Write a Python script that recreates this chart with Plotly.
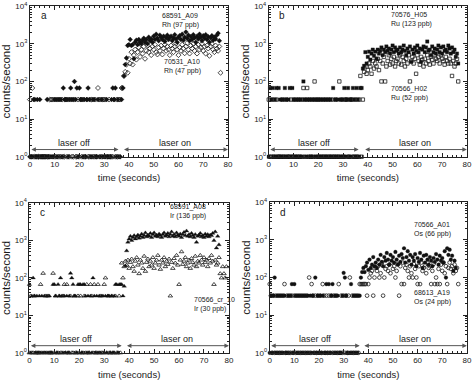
import math
import plotly.graph_objects as go

# ---------------- sample times (s) ----------------
TIME_OFF = [0.0, 0.5, 1.0, 1.5, 2.0, 2.5, 3.0, 3.5, 4.0, 4.5,
            5.0, 5.5, 6.0, 6.5, 7.0, 7.5, 8.0, 8.5, 9.0, 9.5,
            10.0, 10.5, 11.0, 11.5, 12.0, 12.5, 13.0, 13.5, 14.0, 14.5,
            15.0, 15.5, 16.0, 16.5, 17.0, 17.5, 18.0, 18.5, 19.0, 19.5,
            20.0, 20.5, 21.0, 21.5, 22.0, 22.5, 23.0, 23.5, 24.0, 24.5,
            25.0, 25.5, 26.0, 26.5, 27.0, 27.5, 28.0, 28.5, 29.0, 29.5,
            30.0, 30.5, 31.0, 31.5, 32.0, 32.5, 33.0, 33.5, 34.0, 34.5,
            35.0, 35.5, 36.0, 36.5, 37.0, 37.5]
TIME_ON = [38.0, 38.5, 39.0, 39.5, 40.0, 40.5, 41.0, 41.5, 42.0, 42.5,
           43.0, 43.5, 44.0, 44.5, 45.0, 45.5, 46.0, 46.5, 47.0, 47.5,
           48.0, 48.5, 49.0, 49.5, 50.0, 50.5, 51.0, 51.5, 52.0, 52.5,
           53.0, 53.5, 54.0, 54.5, 55.0, 55.5, 56.0, 56.5, 57.0, 57.5,
           58.0, 58.5, 59.0, 59.5, 60.0, 60.5, 61.0, 61.5, 62.0, 62.5,
           63.0, 63.5, 64.0, 64.5, 65.0, 65.5, 66.0, 66.5, 67.0, 67.5,
           68.0, 68.5, 69.0, 69.5, 70.0, 70.5, 71.0, 71.5, 72.0, 72.5,
           73.0, 73.5, 74.0, 74.5, 75.0, 75.5, 76.0, 76.5, 77.0, 77.5,
           78.0, 78.5, 79.0]

# ---------------- panel a : Rh ----------------
A09_OFF = [1, 1, 1, 33, 33, 1, 33, 1, 33, 1,
           1, 1, 1, 1, 33, 1, 1, 1, 1, 1,
           33, 33, 1, 33, 33, 33, 1, 67, 33, 33,
           33, 1, 33, 67, 33, 33, 100, 33, 67, 1,
           67, 33, 33, 1, 33, 1, 33, 67, 33, 1,
           1, 33, 33, 1, 1, 33, 1, 1, 33, 1,
           1, 1, 33, 1, 1, 1, 33, 67, 33, 67,
           1, 33, 1, 1, 33, 67]
A09_ON = [140, 280, 420, 900, 950, 1300, 900, 950, 400, 1100,
          1250, 950, 1300, 1100, 1000, 1250, 1400, 1100, 1300, 1000,
          1500, 1200, 1350, 1100, 1600, 1300, 1800, 1400, 1200, 1700,
          1500, 1300, 1600, 1150, 1450, 1700, 1300, 1500, 1600, 1200,
          1400, 1750, 1350, 1100, 1500, 1650, 1300, 1800, 1250, 1500,
          2050, 1400, 1700, 1200, 1550, 1300, 1750, 1450, 1100, 1600,
          1350, 1800, 1500, 1200, 1650, 1400, 1750, 1300, 1550, 1100,
          1450, 1650, 1250, 1500, 1350, 1700, 1900, 1200, None, None,
          None, None, None]
A10_OFF = [33, 1, 67, 1, 1, 1, 1, 1, 1, 1,
           1, 1, 1, 1, 1, 1, 33, 33, 33, 33,
           1, 1, 33, 1, 1, 1, 33, 1, 1, 33,
           1, 33, 1, 33, 1, 1, 33, 1, 1, 33,
           1, 33, 1, 33, 1, 1, 33, 1, 1, 33,
           33, 1, 1, 33, 1, 67, 33, 33, 1, 33,
           33, 33, 1, 1, 33, 1, 1, 1, 33, 1,
           33, 1, 33, 33, 67, 67]
A10_ON = [140, 180, 280, 170, 400, 300, 600, 280, 500, 700,
          380, 600, 800, 450, 700, 550, 850, 400, 650, 900,
          600, 750, 500, 850, 700, 950, 600, 520, 800, 650,
          900, 520, 750, 950, 650, 850, 700, 500, 900, 750,
          600, 850, 1000, 700, 500, 800, 650, 950, 750, 560,
          850, 1050, 700, 550, 900, 750, 1000, 650, 850, 550,
          950, 700, 800, 1000, 650, 850, 550, 900, 750, 480,
          850, 1000, 700, 600, 900, 750, 650, 850, 170, None,
          None, None, None]

# ---------------- panel b : Ru ----------------
H05_OFF = [1, 67, 33, 67, 1, 33, 67, 1, 67, 33,
           1, 33, 1, 67, 33, 1, 33, 67, 1, 67,
           33, 1, 33, 1, 33, 1, 33, 1, 100, 33,
           1, 33, 1, 33, 1, 33, 1, 33, 1, 33,
           33, 1, 33, 1, 33, 1, 33, 1, 33, 1,
           33, 1, 67, 1, 33, 1, 33, 1, 33, 1,
           33, 67, 1, 33, 67, 1, 33, 1, 67, 33,
           1, 67, 33, 1, 67, 67]
H05_ON = [220, 260, 600, 300, 450, 620, 380, 550, 700, 480,
          620, 400, 700, 550, 650, 800, 500, 700, 600, 850,
          650, 750, 550, 700, 900, 600, 800, 650, 700, 550,
          800, 600, 700, 900, 650, 500, 750, 600, 850, 330,
          700, 550, 800, 650, 900, 600, 750, 330, 700, 850,
          600, 800, 1150, 650, 700, 500, 850, 600, 750, 550,
          700, 900, 600, 800, 550, 850, 650, 700, 600, 900,
          750, 550, 800, 600, 700, 450, 550, 300, None, None,
          None, None, None]
H02_OFF = [33, 1, 1, 33, 1, 1, 33, 1, 1, 1,
           1, 33, 1, 1, 33, 1, 1, 1, 33, 1,
           1, 33, 1, 1, 33, 1, 1, 33, 67, 1,
           33, 67, 1, 33, 1, 1, 33, 100, 1, 33,
           1, 1, 33, 1, 1, 33, 1, 1, 33, 1,
           1, 33, 1, 1, 33, 1, 1, 100, 1, 33,
           1, 1, 33, 33, 1, 1, 33, 33, 1, 1,
           33, 1, 1, 33, 140, 1]
H02_ON = [33, 180, 250, 160, 200, 300, 250, 160, 350, 220,
          300, 250, 400, 200, 350, 100, 300, 450, 100, 250,
          350, 500, 280, 400, 300, 450, 250, 350, 400, 300,
          500, 280, 450, 350, 250, 400, 300, 500, 100, 350,
          450, 300, 400, 160, 500, 350, 280, 450, 380, 250,
          400, 300, 500, 350, 280, 450, 380, 300, 500, 400,
          350, 450, 300, 500, 400, 350, 280, 450, 350, 300,
          400, 300, 140, 350, 250, 300, 400, 100, None, None,
          None, None, None]

# ---------------- panel c : Ir ----------------
A08_OFF = [67, 1, 33, 100, 33, 1, 33, 1, 33, 1,
           33, 1, 33, 1, 33, 1, 33, 1, 1, 67,
           67, 33, 1, 67, 33, 100, 33, 1, 33, 1,
           33, 1, 33, 133, 100, 67, 33, 33, 1, 67,
           67, 67, 1, 67, 67, 33, 1, 33, 1, 33,
           1, 100, 33, 1, 33, 1, 33, 1, 33, 33,
           1, 33, 1, 33, 33, 1, 33, 1, 33, 67,
           67, 1, 67, 67, 67, 33]
A08_ON = [60, 210, 530, 900, 1100, 1300, 1000, 1200, 1350, 1100,
          1250, 1400, 1150, 1300, 1500, 1200, 1350, 1600, 1250, 1400,
          1300, 1550, 1200, 1450, 1600, 1300, 1400, 1250, 1500, 1350,
          1200, 1450, 1600, 1300, 1400, 1550, 1250, 1450, 1700, 1300,
          1450, 1250, 1600, 1400, 1300, 1500, 1200, 1450, 1650, 1350,
          1800, 1300, 1450, 1250, 1550, 1350, 1200, 1450, 900, 1300,
          1400, 1550, 1250, 1350, 1200, 1500, 1300, 1450, 1250, 1400,
          1350, 1550, 1000, 1700, 630, 1300, 770, None, None, None,
          None, None, None]
CR10_OFF = [1, 33, 1, 1, 33, 1, 1, 1, 1, 67,
            1, 133, 1, 33, 1, 33, 1, 1, 1, 133,
            1, 33, 1, 1, 33, 1, 1, 33, 67, 1,
            67, 1, 1, 33, 1, 1, 33, 1, 1, 33,
            1, 33, 1, 1, 33, 1, 67, 1, 1, 67,
            33, 1, 67, 1, 1, 67, 1, 33, 1, 1,
            67, 100, 1, 33, 1, 1, 33, 1, 1, 33,
            1, 1, 33, 1, 250, 100]
CR10_ON = [200, 280, 220, 300, 180, 260, 320, 200, 150, 280,
           350, 220, 130, 300, 250, 180, 380, 150, 260, 320,
           200, 280, 220, 350, 180, 250, 300, 400, 220, 170,
           300, 250, 350, 200, 280, 230, 320, 33, 260, 180,
           330, 250, 400, 220, 67, 300, 500, 230, 280, 350,
           200, 250, 300, 180, 330, 260, 220, 380, 200, 280,
           250, 400, 300, 220, 350, 260, 300, 200, 330, 250,
           400, 280, 67, 300, 220, 250, 350, 130, 100, 200,
           130, 100, 200]

# ---------------- panel d : Os ----------------
A01_OFF = [1, 33, 1, 33, 100, 1, 33, 1, 33, 1,
           33, 1, 33, 1, 1, 33, 1, 33, 67, 1,
           67, 33, 1, 33, 1, 33, 1, 33, 1, 33,
           1, 33, 1, 33, 1, 33, 1, 100, 1, 33,
           1, 33, 1, 33, 1, 1, 67, 1, 67, 1,
           33, 67, 1, 33, 1, 33, 1, 1, 1, 33,
           133, 100, 33, 1, 1, 1, 67, 1, 33, 1,
           33, 1, 33, 33, 100, 140]
A01_ON = [180, 140, 200, 250, 160, 300, 180, 220, 350, 200,
          250, 180, 300, 220, 400, 260, 200, 350, 280, 450,
          300, 220, 400, 280, 350, 250, 480, 300, 220, 380,
          260, 420, 330, 600, 250, 350, 500, 280, 400, 220,
          350, 280, 420, 200, 330, 260, 450, 300, 180, 380,
          250, 400, 300, 220, 350, 280, 200, 330, 260, 420,
          300, 220, 380, 280, 330, 250, 500, 100, 600, 400,
          550, 300, 380, 150, 280, 180, None, None, None, None,
          None, None, None]
A19_OFF = [67, 33, 1, 33, 1, 33, 1, 33, 1, 33,
           1, 33, 67, 1, 33, 1, 33, 1, 33, 1,
           33, 1, 33, 1, 33, 1, 33, 1, 33, 1,
           33, 1, 100, 1, 67, 33, 1, 33, 1, 33,
           1, 33, 1, 67, 33, 1, 33, 1, 33, 1,
           33, 1, 33, 1, 33, 1, 67, 1, 33, 1,
           33, 1, 33, 1, 33, 100, 1, 33, 1, 33,
           1, 33, 1, 67, 67, 67]
A19_ON = [67, 67, 67, 33, 67, 100, 130, 150, 33, 100,
          180, 150, 200, 100, 130, 250, 33, 100, 170, 200,
          150, 220, 130, 250, 170, 200, 100, 150, 230, 33,
          200, 67, 250, 67, 180, 220, 150, 100, 200, 130,
          100, 230, 170, 100, 67, 200, 67, 250, 150, 180,
          220, 130, 250, 180, 200, 67, 150, 230, 67, 100,
          67, 170, 67, 220, 150, 250, 130, 200, 67, 180,
          250, 170, 200, 130, 220, 150, 180, 67, None, None,
          None, None, None]

# ---------------- text ----------------
PANEL_LETTERS = ["a", "b", "c", "d"]
SERIES_NAMES = [("68591_A09", "Rh (97 ppb)", "70531_A10", "Rh (47 ppb)"),
                ("70576_H05", "Ru (123 ppb)", "70566_H02", "Ru (52 ppb)"),
                ("68591_A08", "Ir (136 ppb)", "70566_cr_10", "Ir (30 ppb)"),
                ("70566_A01", "Os (66 ppb)", "68613_A19", "Os (24 ppb)")]
SYMBOLS = ["diamond", "square", "triangle-up", "circle"]
SIZES = [3.8, 3.4, 4.0, 3.7]
FILLED = [(A09_OFF, A09_ON), (H05_OFF, H05_ON), (A08_OFF, A08_ON), (A01_OFF, A01_ON)]
OPEN = [(A10_OFF, A10_ON), (H02_OFF, H02_ON), (CR10_OFF, CR10_ON), (A19_OFF, A19_ON)]

# label positions (time, log10 counts) and laser arrows (off end, on start)
LABEL_POS = [((52.5, 3.63), (53.2, 2.39)),
             ((48.4, 3.65), (48.4, 1.67)),
             ((55.7, 3.77), (65.0, 1.29)),
             ((57.7, 3.28), (57.7, 1.46))]
LASER_OFF_END = [35.8, 36.3, 37.0, 36.5]
LASER_ON_START = [37.4, 38.3, 38.5, 37.8]

XDOM = [[0.063, 0.481], [0.567, 0.985], [0.062, 0.483], [0.569, 0.985]]
YDOM = [[0.594, 0.984], [0.594, 0.984], [0.086, 0.474], [0.086, 0.476]]

FONT = "Arial, Liberation Sans, Helvetica, sans-serif"
TXT = "#1a1a1a"

fig = go.Figure()
layout = dict(width=474, height=386, margin=dict(l=0, r=0, t=0, b=0, autoexpand=False),
              paper_bgcolor="white", plot_bgcolor="white", showlegend=False,
              font=dict(family=FONT, color=TXT))
annotations = []
minor_y = [k * 10 ** d for d in range(4) for k in range(2, 10)]
TIME = TIME_OFF + TIME_ON

for i in range(4):
    n = "" if i == 0 else str(i + 1)
    xa, ya = "x" + n, "y" + n
    f_vals = FILLED[i][0] + FILLED[i][1]
    o_vals = OPEN[i][0] + OPEN[i][1]
    fig.add_trace(go.Scatter(x=TIME, y=o_vals, mode="markers", xaxis=xa, yaxis=ya,
                             cliponaxis=False,
                             marker=dict(symbol=SYMBOLS[i] + "-open", size=SIZES[i],
                                         color="#1a1a1a", line=dict(width=0.8, color="#1a1a1a"))))
    fig.add_trace(go.Scatter(x=TIME, y=f_vals, mode="markers", xaxis=xa, yaxis=ya,
                             cliponaxis=False,
                             marker=dict(symbol=SYMBOLS[i], size=SIZES[i],
                                         color="#111", line=dict(width=0.3, color="#111"))))
    layout["xaxis" + n] = dict(domain=XDOM[i], anchor=ya, range=[0, 80], dtick=10,
                               automargin=False,
                               ticks="inside", ticklen=4, tickwidth=1, tickcolor="#222",
                               showline=True, linecolor="#222", linewidth=1, mirror="allticks",
                               showgrid=False, zeroline=False,
                               minor=dict(dtick=2, ticks="inside", ticklen=2, tickcolor="#222", showgrid=False),
                               tickfont=dict(size=8, color=TXT),
                               title=dict(text="time (seconds)", font=dict(size=9.5, color=TXT), standoff=6))
    layout["yaxis" + n] = dict(domain=YDOM[i], anchor=xa, type="log", range=[0, 4],
                               automargin=False,
                               tickvals=[1, 10, 100, 1000, 10000],
                               ticktext=["10<sup>0</sup>", "10<sup>1</sup>", "10<sup>2</sup>",
                                         "10<sup>3</sup>", "10<sup>4</sup>"],
                               ticks="inside", ticklen=4, tickwidth=1, tickcolor="#222",
                               showline=True, linecolor="#222", linewidth=1, mirror="allticks",
                               showgrid=False, zeroline=False,
                               minor=dict(tickvals=minor_y, ticks="inside", ticklen=2,
                                          tickcolor="#222", showgrid=False),
                               tickfont=dict(size=8, color=TXT),
                               title=dict(text="counts/second", font=dict(size=11.5, color=TXT), standoff=2))
    # panel letter
    annotations.append(dict(xref=xa, yref=ya, x=3.5, y=3.74, text=PANEL_LETTERS[i],
                            showarrow=False, xanchor="left", font=dict(size=10, color=TXT)))
    # sample labels
    (p1, p2) = LABEL_POS[i]
    nm = SERIES_NAMES[i]
    annotations.append(dict(xref=xa, yref=ya, x=p1[0], y=p1[1], text=nm[0] + "<br>" + nm[1],
                            showarrow=False, xanchor="left", align="left",
                            font=dict(size=7, color="#222")))
    annotations.append(dict(xref=xa, yref=ya, x=p2[0], y=p2[1], text=nm[2] + "<br>" + nm[3],
                            showarrow=False, xanchor="left", align="left",
                            font=dict(size=7, color="#222")))
    # laser arrows
    ly = math.log10(1.55)
    for (x0, x1) in [(0, LASER_OFF_END[i]), (LASER_ON_START[i], 80)]:
        annotations.append(dict(xref=xa, yref=ya, axref=xa, ayref=ya, x=x1, y=ly, ax=x0, ay=ly,
                                text="", showarrow=True, arrowhead=2, arrowside="end+start",
                                arrowsize=0.9, arrowwidth=1, arrowcolor="#555"))
    annotations.append(dict(xref=xa, yref=ya, x=LASER_OFF_END[i] / 2, y=ly, yanchor="bottom",
                            text="laser off", showarrow=False, font=dict(size=9, color=TXT)))
    annotations.append(dict(xref=xa, yref=ya, x=(LASER_ON_START[i] + 80) / 2, y=ly, yanchor="bottom",
                            text="laser on", showarrow=False, font=dict(size=9, color=TXT)))

layout["annotations"] = annotations
fig.update_layout(**layout)
fig.write_html("out.html", config={"displayModeBar": False},
               post_script="document.body.style.margin='0';document.body.style.overflow='hidden';")
